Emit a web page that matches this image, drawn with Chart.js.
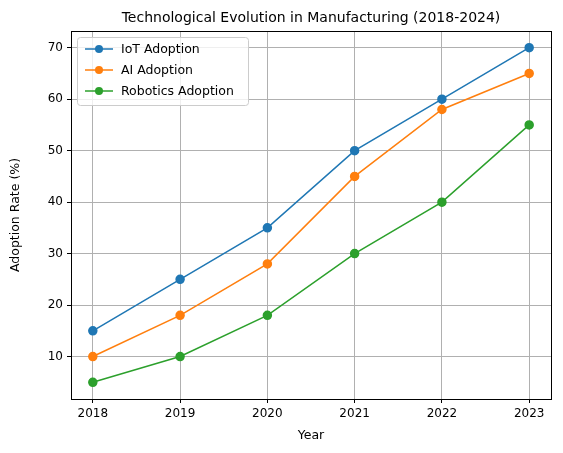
<!DOCTYPE html>
<html>
<head>
<meta charset="utf-8">
<script src="https://cdn.jsdelivr.net/npm/chart.js@4"></script>
<style>
  html, body { margin: 0; padding: 0; background: #fff; }
  #wrap { width: 563px; height: 453px; }
</style>
</head>
<body>
<div id="wrap"><canvas id="c"></canvas></div>
<script>
const years = [2018, 2019, 2020, 2021, 2022, 2023];
const iotAdoption = [15, 25, 35, 50, 60, 70];
const aiAdoption = [10, 18, 28, 45, 58, 65];
const roboticsAdoption = [5, 10, 18, 30, 40, 55];
const yTicks = [10, 20, 30, 40, 50, 60, 70];

const FONT = "DejaVu Sans";

const toPoints = (vals) => vals.map((v, i) => ({ x: years[i], y: v }));

const series = [
  { label: "IoT Adoption", data: iotAdoption, color: "#1f77b4" },
  { label: "AI Adoption", data: aiAdoption, color: "#ff7f0e" },
  { label: "Robotics Adoption", data: roboticsAdoption, color: "#2ca02c" },
];

// title, frame + legend drawn inside, matplotlib style
const overlay = {
  id: "overlay",
  afterDraw(chart) {
    const { ctx, chartArea: a } = chart;
    ctx.save();
    ctx.strokeStyle = "#000";
    ctx.lineWidth = 1;
    ctx.strokeRect(Math.round(a.left) + 0.5, Math.round(a.top) + 0.5, Math.round(a.right - a.left), Math.round(a.bottom - a.top));

    ctx.fillStyle = "#000";
    ctx.font = `14px ${FONT}`;
    ctx.textAlign = "center";
    ctx.textBaseline = "bottom";
    ctx.fillText("Technological Evolution in Manufacturing (2018-2024)", (a.left + a.right) / 2, a.top - 6);

    const x0 = a.left + 6, y0 = a.top + 6, w = 171, h = 68;
    ctx.fillStyle = "rgba(255,255,255,0.8)";
    ctx.strokeStyle = "#ccc";
    ctx.beginPath();
    ctx.roundRect(x0 + 0.5, y0 + 0.5, w, h, 3);
    ctx.fill();
    ctx.stroke();
    ctx.font = `12.5px ${FONT}`;
    ctx.textAlign = "left";
    ctx.textBaseline = "middle";
    chart.data.datasets.forEach((ds, i) => {
      const cy = y0 + 12 + i * 21;
      ctx.strokeStyle = ds.borderColor;
      ctx.lineWidth = 1.5;
      ctx.beginPath();
      ctx.moveTo(x0 + 8, cy);
      ctx.lineTo(x0 + 36, cy);
      ctx.stroke();
      ctx.fillStyle = ds.borderColor;
      ctx.beginPath();
      ctx.arc(x0 + 22, cy, 4, 0, Math.PI * 2);
      ctx.fill();
      ctx.fillStyle = "#000";
      ctx.fillText(ds.label, x0 + 44, cy + 1);
    });
    ctx.restore();
  },
};

new Chart(document.getElementById("c"), {
  type: "line",
  data: {
    datasets: series.map((s) => ({
      label: s.label,
      data: toPoints(s.data),
      borderColor: s.color,
      backgroundColor: s.color,
      borderWidth: 1.5,
      pointRadius: 4,
      pointHoverRadius: 4,
      tension: 0,
    })),
  },
  options: {
    responsive: true,
    maintainAspectRatio: false,
    animation: false,
    layout: { padding: { top: 31, right: 12, left: 0, bottom: 0 } },
    plugins: { legend: { display: false }, title: { display: false }, tooltip: { enabled: false } },
    scales: {
      x: {
        type: "linear",
        min: 2017.75,
        max: 2023.25,
        afterBuildTicks: (s) => { s.ticks = years.map((v) => ({ value: v })); },
        afterFit: (s) => { s.height = 54; },
        ticks: { color: "#000", font: { family: FONT, size: 12 }, callback: (v) => String(v), padding: 4 },
        grid: { color: "#b0b0b0", tickLength: 4, tickColor: "#000" },
        border: { color: "#000" },
        title: { display: true, text: "Year", color: "#000", font: { family: FONT, size: 12.5 }, padding: { top: 0, bottom: 10 } },
      },
      y: {
        min: 1.75,
        max: 73.25,
        afterBuildTicks: (s) => { s.ticks = yTicks.map((v) => ({ value: v })); },
        afterFit: (s) => { s.width = 71; },
        ticks: { color: "#000", font: { family: FONT, size: 12 }, padding: 4 },
        grid: { color: "#b0b0b0", tickLength: 4, tickColor: "#000" },
        border: { color: "#000" },
        title: { display: true, text: "Adoption Rate (%)", color: "#000", font: { family: FONT, size: 12.5 }, padding: { top: 8, bottom: 0 } },
      },
    },
  },
  plugins: [overlay],
});
</script>
</body>
</html>
